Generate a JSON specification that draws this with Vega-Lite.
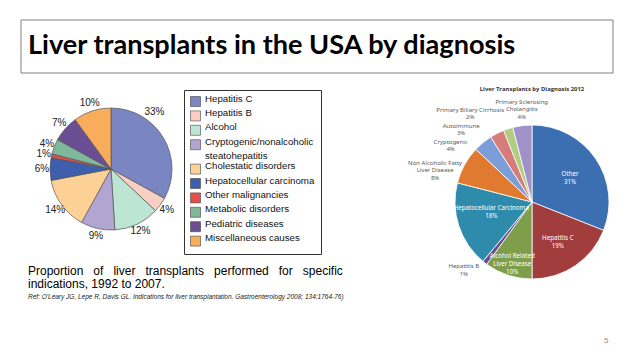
{
  "$schema": "https://vega.github.io/schema/vega-lite/v6.json",
  "background": "white",
  "padding": {"left": 20, "top": 19, "right": 0, "bottom": 0},
  "bounds": "flush",
  "spacing": 8,
  "config": {"view": {"stroke": null}, "font": "Liberation Sans", "style": {"guide-label": {"lineHeight": 14}}},
  "title": {"text": "5", "orient": "bottom", "anchor": "end", "frame": "bounds", "offset": 14, "dx": -5, "fontSize": 8, "fontWeight": "normal", "color": "#8c8c8c", "font": "Liberation Sans"},
  "datasets": {
    "era1": [
      {"rank": 1, "diagnosis": "Hepatitis C", "pct": 33, "label": "33%"},
      {"rank": 2, "diagnosis": "Hepatitis B", "pct": 4, "label": "4%"},
      {"rank": 3, "diagnosis": "Alcohol", "pct": 12, "label": "12%"},
      {"rank": 4, "diagnosis": "Cryptogenic/nonalcoholic steatohepatitis", "pct": 9, "label": "9%"},
      {"rank": 5, "diagnosis": "Cholestatic disorders", "pct": 14, "label": "14%"},
      {"rank": 6, "diagnosis": "Hepatocellular carcinoma", "pct": 6, "label": "6%"},
      {"rank": 7, "diagnosis": "Other malignancies", "pct": 1, "label": "1%"},
      {"rank": 8, "diagnosis": "Metabolic disorders", "pct": 4, "label": "4%"},
      {"rank": 9, "diagnosis": "Pediatric diseases", "pct": 7, "label": "7%"},
      {"rank": 10, "diagnosis": "Miscellaneous causes", "pct": 10, "label": "10%"}
    ],
    "era2": [
      {"rank": 1, "cause": "Other", "pct": 31, "label": "Other\n31%"},
      {"rank": 2, "cause": "Hepatitis C", "pct": 19, "label": "Hepatitis C\n19%"},
      {"rank": 3, "cause": "Alcohol Related Liver Disease", "pct": 10, "label": "Alcohol Related\nLiver Disease\n10%"},
      {"rank": 4, "cause": "Hepatitis B", "pct": 1, "label": "Hepatitis B\n1%"},
      {"rank": 5, "cause": "Hepatocellular Carcinoma", "pct": 18, "label": "Hepatocellular Carcinoma\n18%"},
      {"rank": 6, "cause": "Non Alcoholic Fatty Liver Disease", "pct": 8, "label": "Non Alcoholic Fatty\nLiver Disease\n8%"},
      {"rank": 7, "cause": "Cryptogenic", "pct": 4, "label": "Cryptogenic\n4%"},
      {"rank": 8, "cause": "Autoimmune", "pct": 3, "label": "Autoimmune\n3%"},
      {"rank": 9, "cause": "Primary Biliary Cirrhosis", "pct": 2, "label": "Primary Biliary Cirrhosis\n2%"},
      {"rank": 10, "cause": "Primary Sclerosing Cholangitis", "pct": 4, "label": "Primary Sclerosing\nCholangitis\n4%"}
    ]
  },
  "vconcat": [
    {
      "width": 592,
      "height": 53,
      "data": {"values": [{"t": "Liver transplants in the USA by diagnosis"}]},
      "layer": [
        {"mark": {"type": "rect", "filled": false, "stroke": "#808080", "strokeWidth": 1}},
        {
          "mark": {"type": "text", "align": "left", "baseline": "alphabetic", "dx": -289, "dy": 7.5, "font": "Lato", "fontSize": 27.1, "fontWeight": "bold", "color": "#000000"},
          "encoding": {"text": {"field": "t"}}
        }
      ]
    },
    {
      "bounds": "flush",
      "spacing": 251,
      "resolve": {"scale": {"color": "independent", "theta": "independent"}, "legend": {"color": "independent"}},
      "hconcat": [
        {
          "width": 180,
          "height": 176,
          "data": {"name": "era1"},
          "title": {
            "text": ["Proportion \u00a0\u00a0of \u00a0\u00a0liver \u00a0\u00a0transplants \u00a0\u00a0performed \u00a0\u00a0for \u00a0\u00a0specific", "indications, 1992 to 2007."],
            "subtitle": "Ref: O'Leary JG, Lepe R, Davis GL. Indications for liver transplantation. Gastroenterology 2008; 134:1764-76)",
            "orient": "bottom", "anchor": "start", "frame": "group", "baseline": "top", "offset": 9, "dx": 7,
            "font": "Liberation Sans", "fontSize": 12, "fontWeight": "normal", "color": "#000000", "lineHeight": 13,
            "subtitleFont": "Liberation Sans", "subtitleFontSize": 6.5, "subtitleFontStyle": "italic", "subtitleColor": "#222222", "subtitlePadding": 3
          },
          "encoding": {
            "theta": {"field": "pct", "type": "quantitative", "stack": true},
            "order": {"field": "rank", "type": "quantitative"},
            "color": {
              "field": "diagnosis", "type": "nominal",
              "scale": {
                "domain": ["Hepatitis C", "Hepatitis B", "Alcohol", "Cryptogenic/nonalcoholic steatohepatitis", "Cholestatic disorders", "Hepatocellular carcinoma", "Other malignancies", "Metabolic disorders", "Pediatric diseases", "Miscellaneous causes"],
                "range": ["#7a86c2", "#f9cfc3", "#bde5d3", "#b2a5d1", "#fdd196", "#3f5eab", "#e2504b", "#80b89c", "#6b4d93", "#f8ad5d"]
              },
              "legend": {
                "orient": "none", "legendX": 163, "legendY": 9, "title": null,
                "symbolType": "square", "symbolSize": 100, "symbolStrokeColor": "#444444", "symbolStrokeWidth": 0.6,
                "labelFont": "Liberation Sans", "labelFontSize": 9.7, "labelColor": "#111111", "labelLimit": 220, "labelOffset": 4,
                "labelBaseline": "alphabetic",
                "labelExpr": "datum.label == 'Cryptogenic/nonalcoholic steatohepatitis' ? ['Cryptogenic/nonalcoholic', 'steatohepatitis'] : datum.label",
                "strokeColor": "#333333", "fillColor": "white", "padding": 6, "rowPadding": -0.6, "cornerRadius": 0,
                "encoding": {"labels": {"update": {"dy": {"value": 3.5}, "lineHeight": {"value": 14}}}}
              }
            }
          },
          "layer": [
            {"mark": {"type": "arc", "outerRadius": 61, "stroke": "#555555", "strokeWidth": 0.7}},
            {
              "mark": {"type": "text", "radius": 69, "fontSize": 10, "font": "Liberation Sans", "baseline": "middle", "align": "center"},
              "encoding": {
                "color": {"value": "#222222"},
                "detail": {"field": "diagnosis"},
                "text": {"condition": {"test": "datum.rank != 1", "field": "label"}, "value": ""}
              }
            },
            {
              "mark": {"type": "text", "radius": 69, "fontSize": 10, "font": "Liberation Sans", "baseline": "middle", "align": "center", "dx": -16, "dy": -22},
              "encoding": {
                "color": {"value": "#222222"},
                "detail": {"field": "diagnosis"},
                "text": {"condition": {"test": "datum.rank == 1", "field": "label"}, "value": ""}
              }
            }
          ]
        },
        {
          "width": 160,
          "height": 242,
          "data": {"name": "era2"},
          "title": {"text": "Liver Transplants by Diagnosis 2012", "orient": "top", "anchor": "middle", "frame": "group", "baseline": "alphabetic", "offset": 0, "dy": 16, "font": "Open Sans", "fontSize": 5.9, "fontWeight": "bold", "color": "#333333"},
          "encoding": {
            "theta": {"field": "pct", "type": "quantitative", "stack": true},
            "order": {"field": "rank", "type": "quantitative"},
            "detail": {"field": "cause"}
          },
          "layer": [
            {
              "mark": {"type": "arc", "outerRadius": 77, "stroke": "white", "strokeWidth": 0.8},
              "encoding": {
                "color": {
                  "field": "cause", "type": "nominal", "legend": null,
                  "scale": {
                    "domain": ["Other", "Hepatitis C", "Alcohol Related Liver Disease", "Hepatitis B", "Hepatocellular Carcinoma", "Non Alcoholic Fatty Liver Disease", "Cryptogenic", "Autoimmune", "Primary Biliary Cirrhosis", "Primary Sclerosing Cholangitis"],
                    "range": ["#3b6fb1", "#a13d3c", "#7f9e4c", "#6b4d8f", "#2f8bab", "#e07a31", "#7c9ed8", "#d67c7b", "#b0cd82", "#a092c8"]
                  }
                }
              }
            },
            {
              "mark": {"type": "text", "radius": 46, "fontSize": 6.2, "font": "Noto Sans", "color": "white", "lineBreak": "\n", "baseline": "middle", "align": "center", "lineHeight": 8, "dy": -2},
              "encoding": {"text": {"condition": {"test": "datum.rank == 1 || datum.rank == 2", "field": "label"}, "value": ""}}
            },
            {
              "mark": {"type": "text", "radius": 46, "fontSize": 6.2, "font": "Noto Sans", "color": "white", "lineBreak": "\n", "baseline": "middle", "align": "center", "lineHeight": 8, "dx": 3, "dy": -8},
              "encoding": {"text": {"condition": {"test": "datum.rank == 5", "field": "label"}, "value": ""}}
            },
            {
              "mark": {"type": "text", "radius": 64, "fontSize": 6.2, "font": "Noto Sans", "color": "white", "lineBreak": "\n", "baseline": "middle", "align": "center", "lineHeight": 8, "dy": -7},
              "encoding": {"text": {"condition": {"test": "datum.rank == 3", "field": "label"}, "value": ""}}
            },
            {
              "mark": {"type": "text", "radius": 90, "fontSize": 6, "font": "Noto Sans", "color": "#595959", "lineBreak": "\n", "baseline": "middle", "align": "center", "lineHeight": 7.5, "dx": 1, "dy": -11},
              "encoding": {"text": {"condition": {"test": "datum.rank == 10", "field": "label"}, "value": ""}}
            },
            {
              "mark": {"type": "text", "radius": 90, "fontSize": 6, "font": "Noto Sans", "color": "#595959", "lineBreak": "\n", "baseline": "middle", "align": "center", "lineHeight": 7.5, "dx": -34, "dy": -6.5},
              "encoding": {"text": {"condition": {"test": "datum.rank == 9", "field": "label"}, "value": ""}}
            },
            {
              "mark": {"type": "text", "radius": 90, "fontSize": 6, "font": "Noto Sans", "color": "#595959", "lineBreak": "\n", "baseline": "middle", "align": "center", "lineHeight": 7.5, "dx": -30, "dy": 4},
              "encoding": {"text": {"condition": {"test": "datum.rank == 8", "field": "label"}, "value": ""}}
            },
            {
              "mark": {"type": "text", "radius": 90, "fontSize": 6, "font": "Noto Sans", "color": "#595959", "lineBreak": "\n", "baseline": "middle", "align": "center", "lineHeight": 7.5, "dx": -24, "dy": 9},
              "encoding": {"text": {"condition": {"test": "datum.rank == 7", "field": "label"}, "value": ""}}
            },
            {
              "mark": {"type": "text", "radius": 90, "fontSize": 6, "font": "Noto Sans", "color": "#595959", "lineBreak": "\n", "baseline": "middle", "align": "center", "lineHeight": 7.5, "dx": -18, "dy": 4},
              "encoding": {"text": {"condition": {"test": "datum.rank == 6", "field": "label"}, "value": ""}}
            },
            {
              "mark": {"type": "text", "radius": 90, "fontSize": 6, "font": "Noto Sans", "color": "#595959", "lineBreak": "\n", "baseline": "middle", "align": "center", "lineHeight": 7.5, "dx": -13, "dy": -7},
              "encoding": {"text": {"condition": {"test": "datum.rank == 4", "field": "label"}, "value": ""}}
            }
          ]
        }
      ]
    }
  ]
}
